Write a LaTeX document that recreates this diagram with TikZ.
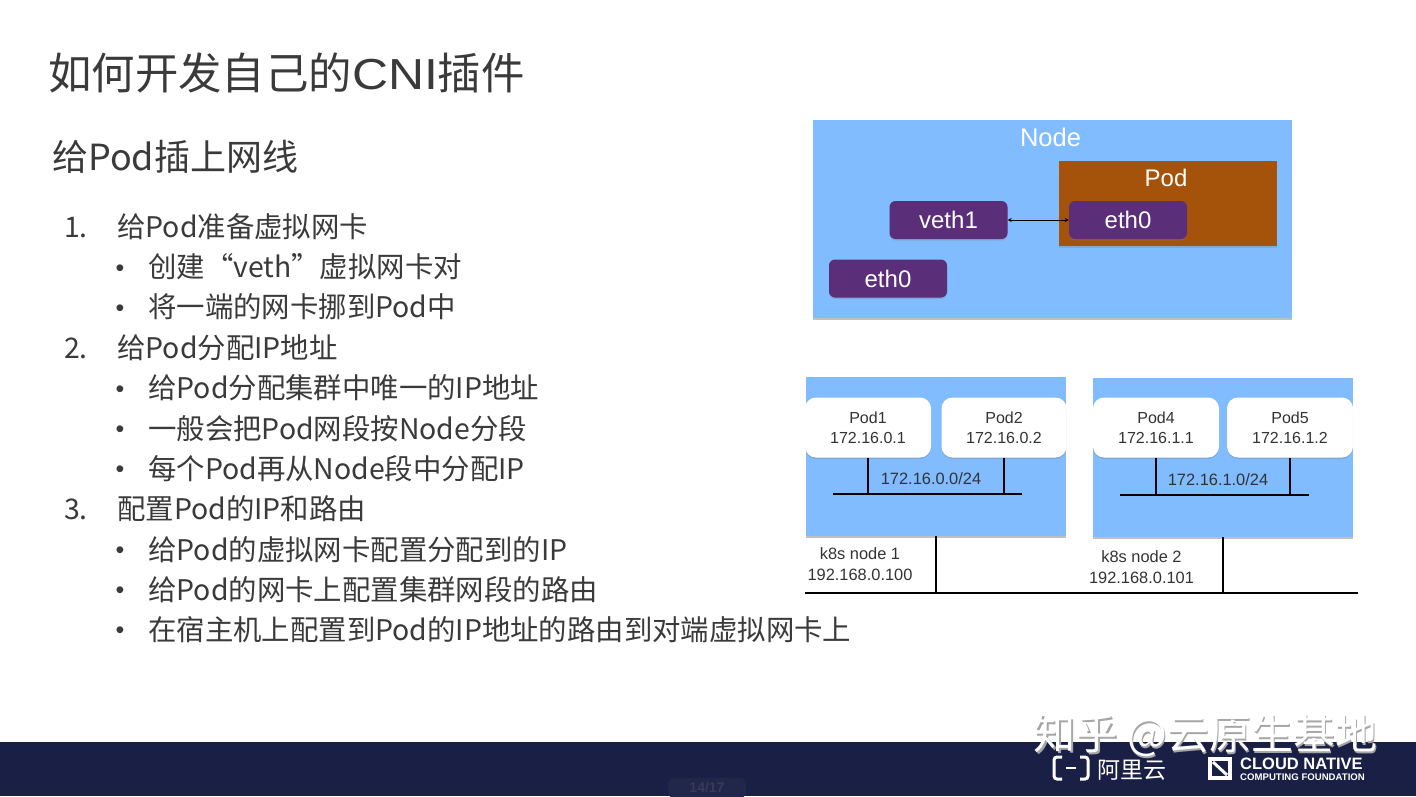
\documentclass[tikz,border=0pt]{standalone}
\usepackage{fontspec}
\setmainfont{Noto Sans CJK SC}
\newfontfamily\labelfont{Liberation Sans}
\usetikzlibrary{positioning}
\usetikzlibrary{shadows}
\definecolor{skyblue}{HTML}{80BCFF}
\definecolor{podbrown}{HTML}{A5520A}
\definecolor{nicpurple}{HTML}{5A2E78}
\definecolor{footernavy}{HTML}{1A1F45}
\definecolor{bodygrey}{HTML}{3A3A3A}
\tikzset{
	panel/.style = {fill = skyblue, drop shadow = {shadow xshift = 0pt, shadow yshift = -2pt, opacity = 0.5}},
	nicbox/.style = {rounded corners = 6pt, fill = nicpurple, text = white, minimum width = 118pt, minimum height = 38pt, inner sep = 0pt, font = \labelfont\fontsize{24}{28}\selectfont, drop shadow = {shadow xshift = 0pt, shadow yshift = -1.5pt, opacity = 0.3}},
	podbox/.style = {rounded corners = 11pt, fill = white, text = black!80, minimum width = 126pt, minimum height = 60pt, inner sep = 0pt, align = center, font = \labelfont\fontsize{16}{20}\selectfont, drop shadow = {shadow xshift = 0pt, shadow yshift = -1.5pt, opacity = 0.3}},
	netlabel/.style = {text = black!80, inner sep = 0pt, align = center, font = \labelfont\fontsize{16.4}{20.5}\selectfont},
	heading/.style = {anchor = base west, inner sep = 0pt, text = bodygrey},
	listnum/.style = {anchor = base west, inner sep = 0pt, text = bodygrey, font = \fontsize{28.4}{32}\selectfont},
	listbullet/.style = {anchor = base, inner sep = 0pt, text = bodygrey, font = \labelfont\fontsize{25}{28}\selectfont},
	wire/.style = {black, line width = 2pt}
}

\begin{document}
\begin{tikzpicture}[x = 1pt, y = -1pt]
	\useasboundingbox (0, 0) rectangle (1416, 796);
	% left column
	\node[heading, font = \fontsize{43.4}{48}\selectfont] (title) at (48, 89.5) {如何开发自己的{\labelfont\addfontfeature{FakeStretch=1.15}CNI}插件};
	\node[heading, font = \fontsize{36}{40}\selectfont] (subtitle) at (52, 170.5) {给Pod插上网线};
	\node[listnum] (numA) at (64, 237) {1.};
	\node[listnum] (itemA) at (117, 237) {给Pod准备虚拟网卡};
	\node[listbullet] (dotAa) at (120, 276) {•};
	\node[listnum] (itemAa) at (148, 277) {创建“veth”虚拟网卡对};
	\node[listbullet] (dotAb) at (120, 316) {•};
	\node[listnum] (itemAb) at (148, 317) {将一端的网卡挪到Pod中};
	\node[listnum] (numB) at (64, 358) {2.};
	\node[listnum] (itemB) at (117, 358) {给Pod分配IP地址};
	\node[listbullet] (dotBa) at (120, 397) {•};
	\node[listnum] (itemBa) at (148, 398) {给Pod分配集群中唯一的IP地址};
	\node[listbullet] (dotBb) at (120, 437) {•};
	\node[listnum] (itemBb) at (148, 439) {一般会把Pod网段按Node分段};
	\node[listbullet] (dotBc) at (120, 477) {•};
	\node[listnum] (itemBc) at (148, 479) {每个Pod再从Node段中分配IP};
	\node[listnum] (numC) at (64, 519) {3.};
	\node[listnum] (itemC) at (117, 519) {配置Pod的IP和路由};
	\node[listbullet] (dotCa) at (120, 558) {•};
	\node[listnum] (itemCa) at (148, 560) {给Pod的虚拟网卡配置分配到的IP};
	\node[listbullet] (dotCb) at (120, 598) {•};
	\node[listnum] (itemCb) at (148, 600) {给Pod的网卡上配置集群网段的路由};
	\node[listbullet] (dotCc) at (120, 638) {•};
	\node[listnum] (itemCc) at (148, 640) {在宿主机上配置到Pod的IP地址的路由到对端虚拟网卡上};
	% veth picture
	\node[panel, minimum width = 479pt, minimum height = 198pt, inner sep = 0pt] (hostbox) at (1052.5, 219) {};
	\node[text = white, inner sep = 0pt, font = \labelfont\fontsize{25.5}{28}\selectfont] (hostlabel) at (1050.5, 137) {Node};
	\node[fill = podbrown, minimum width = 218pt, minimum height = 85pt, inner sep = 0pt, drop shadow = {shadow xshift = 0pt, shadow yshift = -1.5pt, opacity = 0.3}] (podbox) at (1168, 203.5) {};
	\node[text = white, inner sep = 0pt, font = \labelfont\fontsize{24}{28}\selectfont] (podlabel) at (1166, 178) {Pod};
	\node[nicbox] (veth) at (948.5, 220) {veth1};
	\node[nicbox] (podeth) at (1128, 220) {eth0};
	\node[nicbox] (hosteth) at (888, 278.5) {eth0};
	\draw[black, <->, >=stealth, line width = 0.8pt] (veth) -- (podeth);
	% cluster picture
	\node[panel, minimum width = 260pt, minimum height = 159pt, inner sep = 0pt] (nodeA) at (936, 456.5) {};
	\node[panel, minimum width = 260pt, minimum height = 159pt, inner sep = 0pt] (nodeB) at (1223, 457.5) {};
	\node[podbox] (podA) at (868, 427.5) {Pod1\\172.16.0.1};
	\node[podbox, minimum width = 125pt] (podB) at (1004, 427.5) {Pod2\\172.16.0.2};
	\node[podbox] (podC) at (1156, 427.5) {Pod4\\172.16.1.1};
	\node[podbox] (podD) at (1290, 427.5) {Pod5\\172.16.1.2};
	\coordinate (busAl) at (833, 494);
	\coordinate (busAr) at (1022, 494);
	\coordinate (busBl) at (1120, 495);
	\coordinate (busBr) at (1309, 495);
	\coordinate (busCl) at (805, 593);
	\coordinate (busCr) at (1358, 593);
	\draw[wire] (busAl)--(busAr);
	\draw[wire] (busBl)--(busBr);
	\draw[wire] (busCl)--(busCr);
	\draw[wire] (podA.south)--(podA.south |- busAl);
	\draw[wire] (podB.south)--(podB.south |- busAl);
	\draw[wire] (podC.south)--(podC.south |- busBl);
	\draw[wire] (podD.south)--(podD.south |- busBl);
	\draw[wire] (nodeA.south)--(nodeA.south |- busCl);
	\draw[wire] (nodeB.south)--(nodeB.south |- busCl);
	\node[netlabel] (netA) at (931, 479) {172.16.0.0/24};
	\node[netlabel] (netB) at (1218, 480) {172.16.1.0/24};
	\node[netlabel] (hostA) at (860, 564) {k8s node 1\\192.168.0.100};
	\node[netlabel] (hostB) at (1141.5, 567) {k8s node 2\\192.168.0.101};
	% footer
	\fill[footernavy] (0, 742) rectangle (1416, 796);
	\node[fill = footernavy!97!white, rounded corners = 6pt, minimum width = 78pt, minimum height = 20pt, inner sep = 0pt, text = footernavy!88!white, font = \labelfont\bfseries\fontsize{14}{16}\selectfont] (pagenum) at (707, 788) {14/17};
	\node[text = black!35, inner sep = 0pt, font = \fontsize{42}{44}\selectfont] (markshadow) at (1207, 737) {知乎 @云原生基地};
	\node[text = white, inner sep = 0pt, font = \fontsize{42}{44}\selectfont] (mark) at (1205.5, 735.5) {知乎 @云原生基地};
	\draw[white, line width = 3pt, rounded corners = 3pt] (1062, 757)--(1054, 757)--(1054, 779)--(1062, 779);
	\draw[white, line width = 3pt, rounded corners = 3pt] (1080, 757)--(1088, 757)--(1088, 779)--(1080, 779);
	\draw[white, line width = 2.5pt] (1066, 768)--(1076, 768);
	\node[text = white, inner sep = 0pt, font = \fontsize{23}{25}\selectfont] (aliyun) at (1132, 770) {阿里云};
	\fill[white] (1208, 757) rectangle (1232, 780);
	\fill[footernavy] (1212, 761) rectangle (1228, 776);
	\draw[white, line width = 3pt] (1213, 762)--(1227, 775);
	\node[anchor = west, text = white, inner sep = 0pt, font = \labelfont\bfseries\fontsize{16.5}{19}\selectfont] (cloud) at (1240, 764) {CLOUD NATIVE};
	\node[anchor = west, text = white, inner sep = 0pt, font = \labelfont\bfseries\fontsize{9.6}{11}\selectfont] (foundation) at (1240, 777) {COMPUTING FOUNDATION};
\end{tikzpicture}
\end{document}
